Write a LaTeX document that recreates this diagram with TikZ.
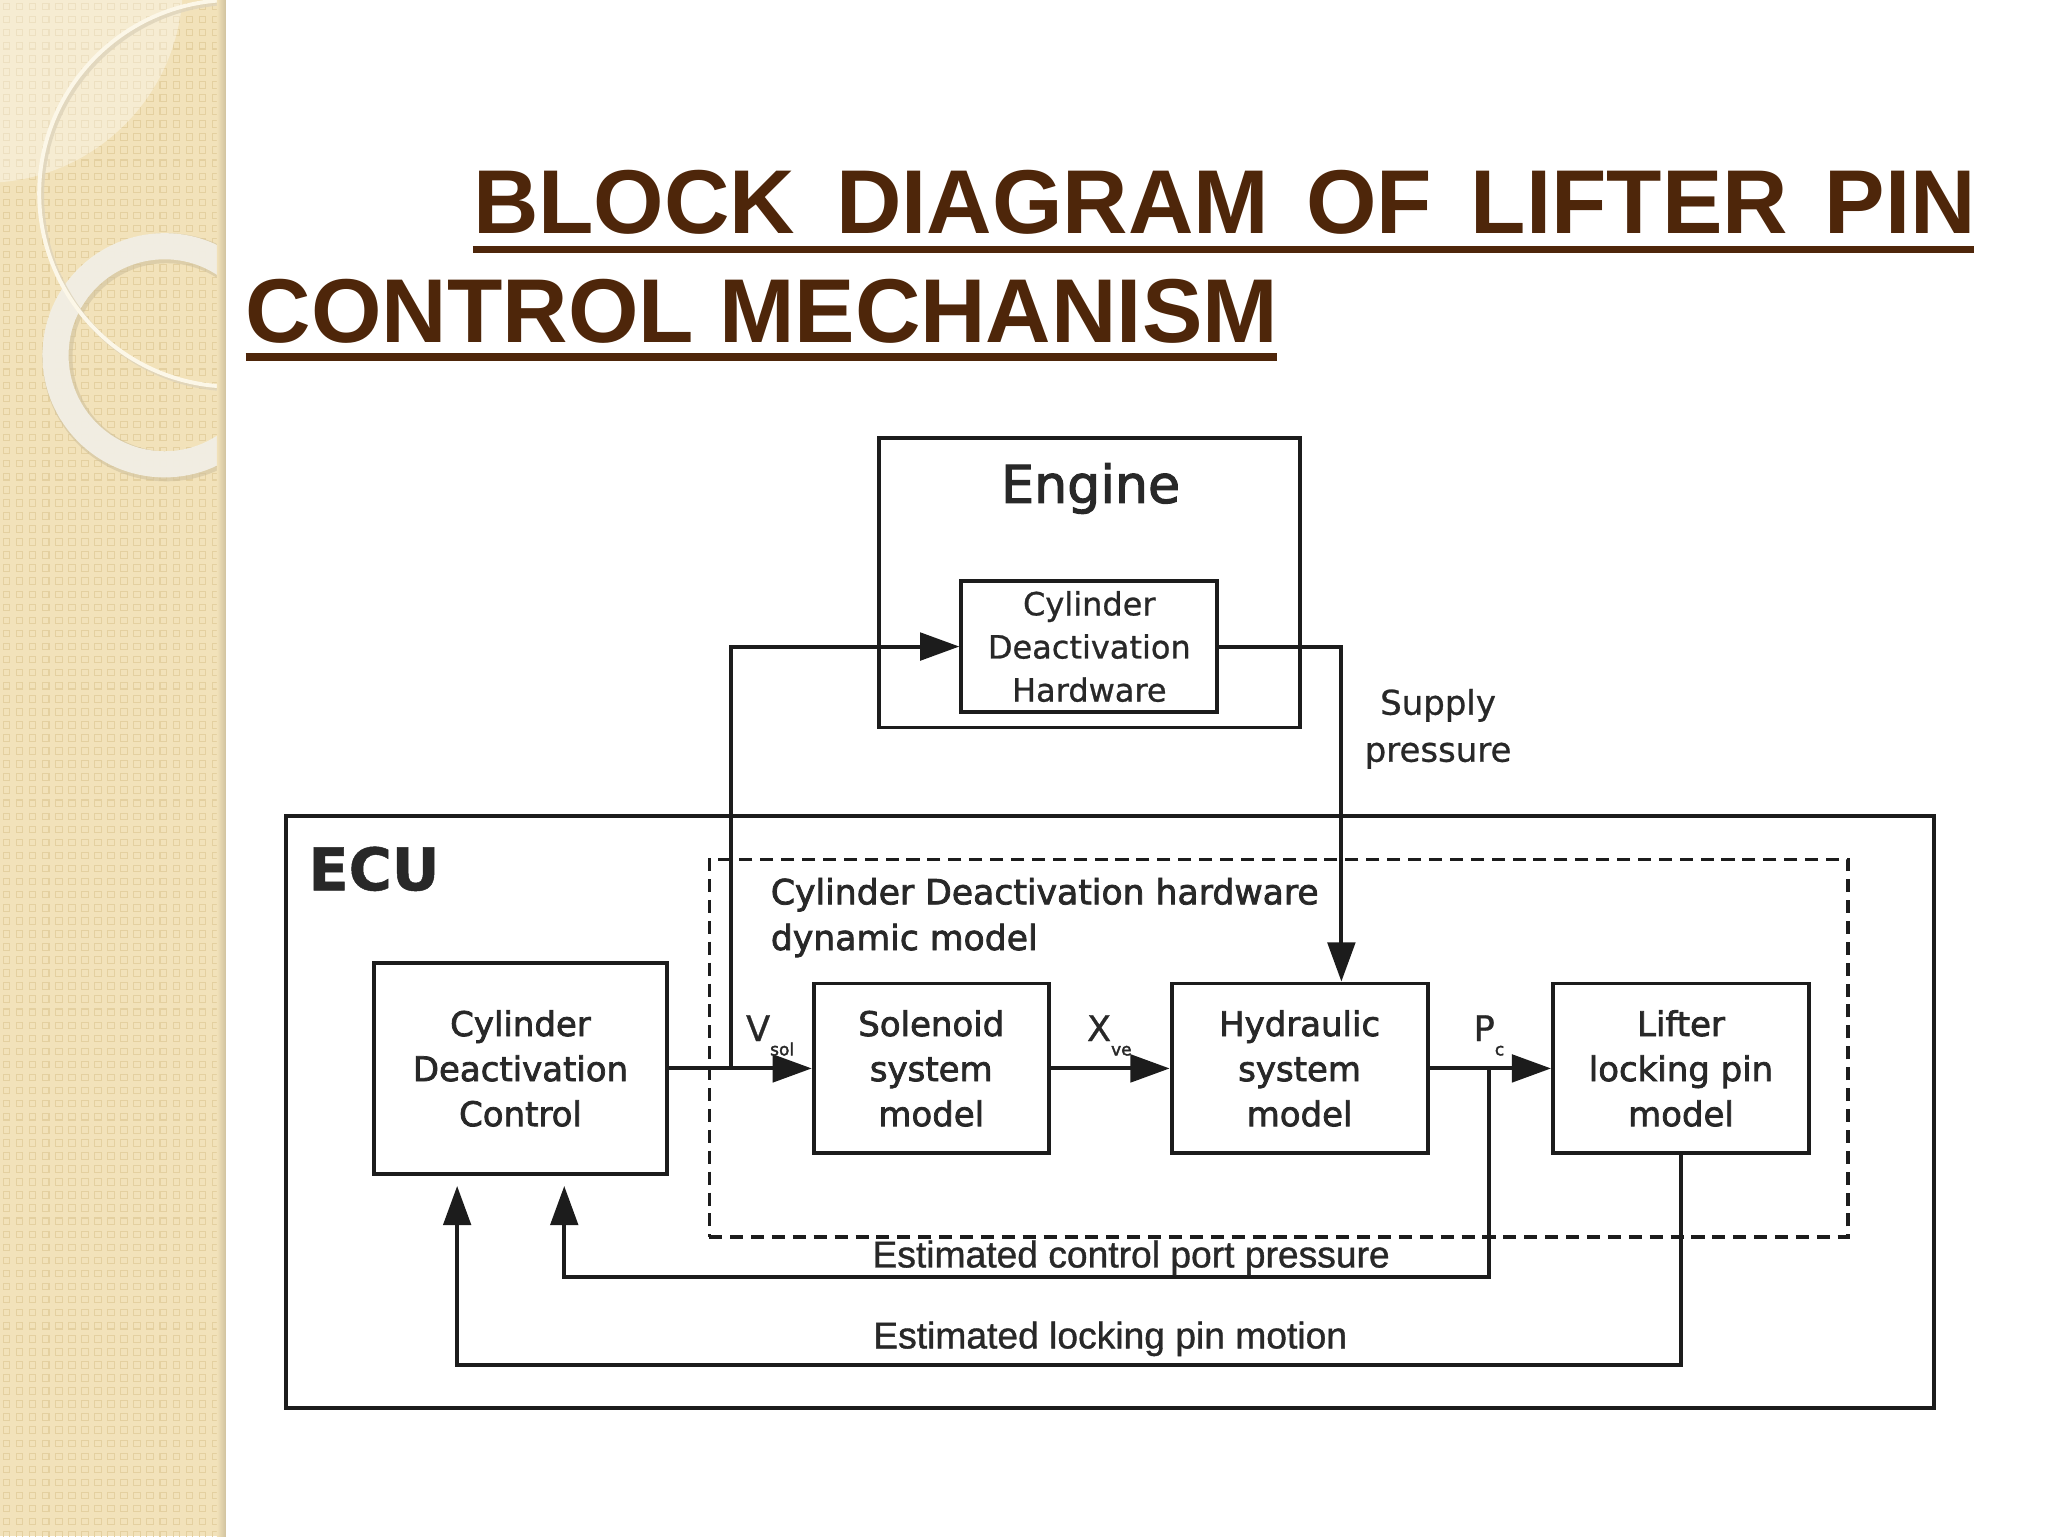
\documentclass[tikz,border=0pt]{standalone}
\usepackage{fontspec}
\setmainfont{Liberation Sans}
\newfontfamily\djf[FakeBold=0.8]{DejaVu Sans}
\newfontfamily\djb[FakeBold=2.2]{DejaVu Sans}
\newfontfamily\libm[FakeBold=1.0]{Liberation Sans}
\usetikzlibrary{arrows.meta}
\definecolor{titlecol}{RGB}{78,38,10}
\definecolor{stripcol}{RGB}{242,226,186}
\definecolor{patcol}{RGB}{228,208,160}
\definecolor{ringcol}{RGB}{242,239,228}
\definecolor{ringedge}{RGB}{208,194,158}
\definecolor{thincol}{RGB}{252,247,232}
\definecolor{inkcol}{RGB}{28,28,28}
\definecolor{txtcol}{RGB}{40,40,40}
\tikzset{
  ttl/.style={font=\fontsize{69.4}{80}\selectfont\bfseries, text=titlecol, inner sep=0pt, anchor=base west},
  blk/.style={draw=inkcol, line width=3pt, inner sep=0pt, align=center, text=txtcol,
              font=\djb\fontsize{26}{34.5}\selectfont},
  frame/.style={draw=inkcol, line width=3pt, inner sep=0pt},
  dashbox/.style={draw=inkcol, line width=2.6pt, dash pattern=on 10pt off 6pt, inner sep=0pt},
  lbl/.style={text=txtcol, inner sep=0pt, font=\djb\fontsize{26}{35}\selectfont},
  est/.style={text=txtcol, inner sep=0pt, font=\libm\fontsize{28.5}{30}\selectfont},
  conn/.style={draw=inkcol, line width=3pt},
  arr/.style={conn, -{Triangle[length=30pt,width=21pt]}},
}
\begin{document}
\begin{tikzpicture}[x=1pt,y=-1pt]
\useasboundingbox (0,0) rectangle (1568,1176);
\fill[white] (0,0) rectangle (1568,1176);

% ---------- decorative side strip ----------
\begin{scope}
\clip (0,0) rectangle (173,1176);
\fill[stripcol] (0,0) rectangle (173,1176);
\foreach \i in {0,...,17}{
  \foreach \j in {0,...,117}{
    \draw[patcol, line width=0.8pt] (\i*10+2.5,\j*10+2.5) rectangle ++(5,5);
  }
}
\fill[white, opacity=0.35] (-12,-12) circle (152);
\draw[ringedge, line width=23pt, opacity=0.6] (127.5,273.5) circle (83.5);
\draw[ringcol, line width=20pt, opacity=0.97] (126,272) circle (83.5);
\draw[ringedge!70!white, line width=3.5pt, opacity=0.8] (180,150) circle (148);
\draw[thincol, line width=3pt] (178,148) circle (148);
\shade[left color=stripcol, right color=ringedge] (166,0) rectangle (173,1176);
\end{scope}

% ---------- title ----------
\node[ttl] (w1) at (362,179) {BLOCK};
\node[ttl] (w2) at (640,179) {DIAGRAM};
\node[ttl] (w3) at (1000,179) {OF};
\node[ttl] (w4) at (1126,179) {LIFTER};
\node[ttl] (w5) at (1397,179) {PIN};
\node[ttl] (w6) at (188,262) {CONTROL MECHANISM};
\draw[titlecol, line width=6pt] (362,191) -- (1511,191);
\draw[titlecol, line width=6pt] (188,273) -- (978,273);

% ---------- diagram ----------
\node[frame, minimum width=322pt, minimum height=222pt] (engine) at (834,446) {};
\node[lbl, font=\djb\fontsize{40}{44}\selectfont] (englbl) at (835,374) {Engine};
\node[blk, minimum width=196pt, minimum height=100pt, font=\djf\fontsize{24.5}{33}\selectfont] (cdh) at (834,495) {Cylinder\\Deactivation\\Hardware};

\node[frame, minimum width=1262pt, minimum height=453pt] (ecu) at (850,851.5) {};
\node[lbl, anchor=north west, font=\djf\bfseries\fontsize{45}{50}\selectfont] (eculbl) at (236,648) {ECU};

\node[dashbox, minimum width=872pt, minimum height=289pt] (dyn) at (979,802.5) {};
\node[lbl, anchor=north west, align=left, font=\djb\fontsize{26.5}{35}\selectfont] (dynlbl) at (590,672) {Cylinder Deactivation hardware\\dynamic model};

\node[blk, minimum width=225pt, minimum height=161pt] (cdc) at (398.5,818) {Cylinder\\Deactivation\\Control};
\node[blk, minimum width=180pt, minimum height=130pt] (sol) at (713,818) {Solenoid\\system\\model};
\node[blk, minimum width=196pt, minimum height=130pt] (hyd) at (995,818) {Hydraulic\\system\\model};
\node[blk, minimum width=196pt, minimum height=130pt] (lift) at (1287,818) {Lifter\\locking pin\\model};

% connectors
\coordinate (j1) at (560,818);
\coordinate (j2) at (1140,818);
\coordinate (fb1) at (1140,978);
\coordinate (fb2) at (1287,1045);
\draw[arr] (cdc.east) -- (sol.west);
\draw[arr] (sol.east) -- (hyd.west);
\draw[arr] (hyd.east) -- (lift.west);
\draw[arr] (j1) |- (cdh.west);
\draw[arr] (cdh.east) -| ([xshift=32pt]hyd.north);
\draw[arr, shorten >=8pt] (j2) -- (fb1) -| ([xshift=33.5pt]cdc.south);
\draw[arr, shorten >=8pt] (lift.south) -- (fb2) -| ([xshift=-48.5pt]cdc.south);

% signal labels
\node[lbl, anchor=base west, font=\djf\fontsize{27}{35}\selectfont] (vsol) at (571,797) {V\raisebox{-11pt}{\djb\fontsize{13}{13}\selectfont sol}};
\node[lbl, anchor=base west, font=\djf\fontsize{27}{35}\selectfont] (xve) at (832,797) {X\raisebox{-11pt}{\djb\fontsize{13}{13}\selectfont ve}};
\node[lbl, anchor=base west, font=\djf\fontsize{27}{35}\selectfont] (pc) at (1128,797) {P\raisebox{-11pt}{\djb\fontsize{13}{13}\selectfont c}};
\node[lbl, align=center, font=\djf\fontsize{26}{36}\selectfont] (supply) at (1101,558) {Supply\\pressure};
\node[est] (estp) at (866,963) {Estimated control port pressure};
\node[est] (estm) at (850,1025) {Estimated locking pin motion};
\end{tikzpicture}
\end{document}
